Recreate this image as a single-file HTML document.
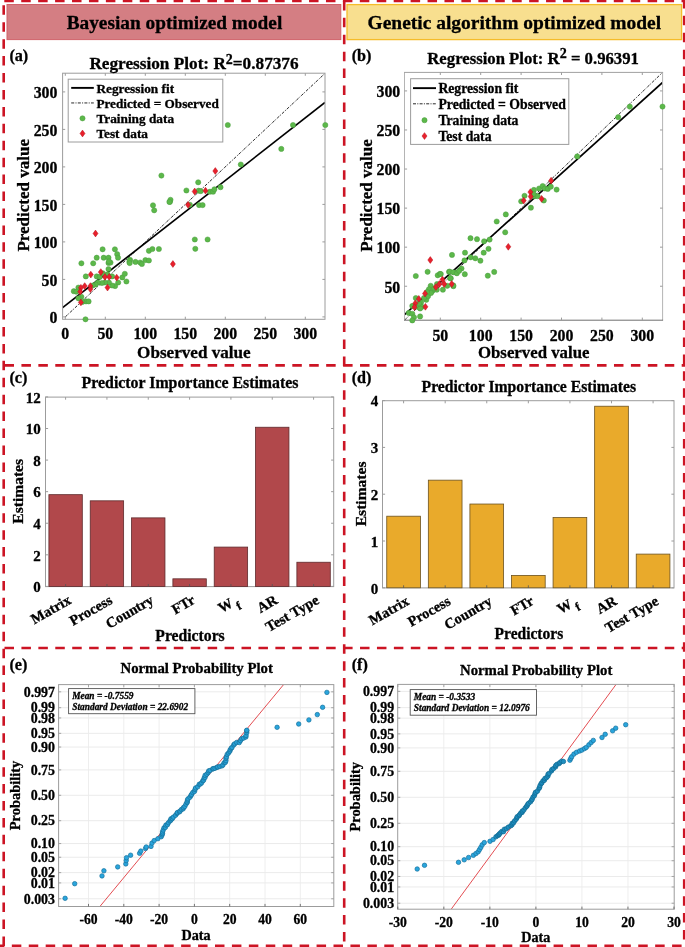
<!DOCTYPE html><html><head><meta charset="utf-8"><title>Model comparison figure</title>
<style>html,body{margin:0;padding:0;background:#fff;}svg{display:block;}text{font-family:"Liberation Serif",serif;font-weight:bold;stroke:#000;stroke-width:0.3px;}</style></head><body>
<svg width="685" height="947" viewBox="0 0 685 947">
<rect width="685" height="947" fill="#fff"/>
<rect x="7" y="4.5" width="333.8" height="35.1" fill="#d47e83" stroke="#d0636a" stroke-width="1" />
<text x="174.5" y="29.2" font-size="19.3" text-anchor="middle" textLength="215.6" lengthAdjust="spacingAndGlyphs" >Bayesian optimized model</text>
<rect x="347" y="4.6" width="334.6" height="35" fill="#f8df8f" stroke="#f5bc2a" stroke-width="1.3" />
<text x="514.3" y="28.6" font-size="19.4" text-anchor="middle" textLength="293.5" lengthAdjust="spacingAndGlyphs" >Genetic algorithm optimized model</text>
<clipPath id="ca"><rect x="62.6" y="73.2" width="262.4" height="246.1"/></clipPath>
<g clip-path="url(#ca)">
<line x1="65.3" y1="316.9" x2="325.3" y2="73.1" stroke="#111" stroke-width="0.9" stroke-dasharray="3 1.3 1 1.3"/>
<line x1="62.6" y1="307.7" x2="325" y2="102.5" stroke="#000" stroke-width="1.7" />
</g>
<rect x="62.6" y="73.2" width="262.4" height="246.1" fill="none" stroke="#9c9c9c" stroke-width="1" />
<line x1="65.3" y1="319.3" x2="65.3" y2="316.7" stroke="#9c9c9c" stroke-width="1" />
<line x1="65.3" y1="73.2" x2="65.3" y2="75.8" stroke="#9c9c9c" stroke-width="1" />
<text x="65.3" y="339.2" font-size="15.8" text-anchor="middle" >0</text>
<line x1="105.3" y1="319.3" x2="105.3" y2="316.7" stroke="#9c9c9c" stroke-width="1" />
<line x1="105.3" y1="73.2" x2="105.3" y2="75.8" stroke="#9c9c9c" stroke-width="1" />
<text x="105.3" y="339.2" font-size="15.8" text-anchor="middle" >50</text>
<line x1="145.3" y1="319.3" x2="145.3" y2="316.7" stroke="#9c9c9c" stroke-width="1" />
<line x1="145.3" y1="73.2" x2="145.3" y2="75.8" stroke="#9c9c9c" stroke-width="1" />
<text x="145.3" y="339.2" font-size="15.8" text-anchor="middle" >100</text>
<line x1="185.3" y1="319.3" x2="185.3" y2="316.7" stroke="#9c9c9c" stroke-width="1" />
<line x1="185.3" y1="73.2" x2="185.3" y2="75.8" stroke="#9c9c9c" stroke-width="1" />
<text x="185.3" y="339.2" font-size="15.8" text-anchor="middle" >150</text>
<line x1="225.3" y1="319.3" x2="225.3" y2="316.7" stroke="#9c9c9c" stroke-width="1" />
<line x1="225.3" y1="73.2" x2="225.3" y2="75.8" stroke="#9c9c9c" stroke-width="1" />
<text x="225.3" y="339.2" font-size="15.8" text-anchor="middle" >200</text>
<line x1="265.3" y1="319.3" x2="265.3" y2="316.7" stroke="#9c9c9c" stroke-width="1" />
<line x1="265.3" y1="73.2" x2="265.3" y2="75.8" stroke="#9c9c9c" stroke-width="1" />
<text x="265.3" y="339.2" font-size="15.8" text-anchor="middle" >250</text>
<line x1="305.3" y1="319.3" x2="305.3" y2="316.7" stroke="#9c9c9c" stroke-width="1" />
<line x1="305.3" y1="73.2" x2="305.3" y2="75.8" stroke="#9c9c9c" stroke-width="1" />
<text x="305.3" y="339.2" font-size="15.8" text-anchor="middle" >300</text>
<line x1="62.6" y1="316.9" x2="65.2" y2="316.9" stroke="#9c9c9c" stroke-width="1" />
<line x1="325" y1="316.9" x2="322.4" y2="316.9" stroke="#9c9c9c" stroke-width="1" />
<text x="57.4" y="323.22" font-size="15.8" text-anchor="end" >0</text>
<line x1="62.6" y1="279.4" x2="65.2" y2="279.4" stroke="#9c9c9c" stroke-width="1" />
<line x1="325" y1="279.4" x2="322.4" y2="279.4" stroke="#9c9c9c" stroke-width="1" />
<text x="57.4" y="285.72" font-size="15.8" text-anchor="end" >50</text>
<line x1="62.6" y1="241.9" x2="65.2" y2="241.9" stroke="#9c9c9c" stroke-width="1" />
<line x1="325" y1="241.9" x2="322.4" y2="241.9" stroke="#9c9c9c" stroke-width="1" />
<text x="57.4" y="248.22" font-size="15.8" text-anchor="end" >100</text>
<line x1="62.6" y1="204.4" x2="65.2" y2="204.4" stroke="#9c9c9c" stroke-width="1" />
<line x1="325" y1="204.4" x2="322.4" y2="204.4" stroke="#9c9c9c" stroke-width="1" />
<text x="57.4" y="210.72" font-size="15.8" text-anchor="end" >150</text>
<line x1="62.6" y1="166.9" x2="65.2" y2="166.9" stroke="#9c9c9c" stroke-width="1" />
<line x1="325" y1="166.9" x2="322.4" y2="166.9" stroke="#9c9c9c" stroke-width="1" />
<text x="57.4" y="173.22" font-size="15.8" text-anchor="end" >200</text>
<line x1="62.6" y1="129.4" x2="65.2" y2="129.4" stroke="#9c9c9c" stroke-width="1" />
<line x1="325" y1="129.4" x2="322.4" y2="129.4" stroke="#9c9c9c" stroke-width="1" />
<text x="57.4" y="135.72" font-size="15.8" text-anchor="end" >250</text>
<line x1="62.6" y1="91.9" x2="65.2" y2="91.9" stroke="#9c9c9c" stroke-width="1" />
<line x1="325" y1="91.9" x2="322.4" y2="91.9" stroke="#9c9c9c" stroke-width="1" />
<text x="57.4" y="98.22" font-size="15.8" text-anchor="end" >300</text>
<circle cx="81.4" cy="263.3" r="2.6" fill="#5cb84a" stroke="#4a9c3e" stroke-width="0.5"/>
<circle cx="93.2" cy="263.3" r="2.6" fill="#5cb84a" stroke="#4a9c3e" stroke-width="0.5"/>
<circle cx="108.5" cy="262.9" r="2.6" fill="#5cb84a" stroke="#4a9c3e" stroke-width="0.5"/>
<circle cx="110.5" cy="262.6" r="2.6" fill="#5cb84a" stroke="#4a9c3e" stroke-width="0.5"/>
<circle cx="129.4" cy="262" r="2.6" fill="#5cb84a" stroke="#4a9c3e" stroke-width="0.5"/>
<circle cx="108.5" cy="269" r="2.6" fill="#5cb84a" stroke="#4a9c3e" stroke-width="0.5"/>
<circle cx="85.8" cy="276.4" r="2.6" fill="#5cb84a" stroke="#4a9c3e" stroke-width="0.5"/>
<circle cx="96.7" cy="276.4" r="2.6" fill="#5cb84a" stroke="#4a9c3e" stroke-width="0.5"/>
<circle cx="99.8" cy="276.9" r="2.6" fill="#5cb84a" stroke="#4a9c3e" stroke-width="0.5"/>
<circle cx="102.9" cy="273.3" r="2.6" fill="#5cb84a" stroke="#4a9c3e" stroke-width="0.5"/>
<circle cx="107.5" cy="274.3" r="2.6" fill="#5cb84a" stroke="#4a9c3e" stroke-width="0.5"/>
<circle cx="112.1" cy="276.4" r="2.6" fill="#5cb84a" stroke="#4a9c3e" stroke-width="0.5"/>
<circle cx="122.3" cy="277.4" r="2.6" fill="#5cb84a" stroke="#4a9c3e" stroke-width="0.5"/>
<circle cx="124.8" cy="273.8" r="2.6" fill="#5cb84a" stroke="#4a9c3e" stroke-width="0.5"/>
<circle cx="126.4" cy="281.5" r="2.6" fill="#5cb84a" stroke="#4a9c3e" stroke-width="0.5"/>
<circle cx="118.2" cy="282.5" r="2.6" fill="#5cb84a" stroke="#4a9c3e" stroke-width="0.5"/>
<circle cx="115.1" cy="286.1" r="2.6" fill="#5cb84a" stroke="#4a9c3e" stroke-width="0.5"/>
<circle cx="112.1" cy="285.5" r="2.6" fill="#5cb84a" stroke="#4a9c3e" stroke-width="0.5"/>
<circle cx="109" cy="282.5" r="2.6" fill="#5cb84a" stroke="#4a9c3e" stroke-width="0.5"/>
<circle cx="104.9" cy="282.5" r="2.6" fill="#5cb84a" stroke="#4a9c3e" stroke-width="0.5"/>
<circle cx="101.9" cy="283" r="2.6" fill="#5cb84a" stroke="#4a9c3e" stroke-width="0.5"/>
<circle cx="97.8" cy="282.5" r="2.6" fill="#5cb84a" stroke="#4a9c3e" stroke-width="0.5"/>
<circle cx="95.7" cy="284.5" r="2.6" fill="#5cb84a" stroke="#4a9c3e" stroke-width="0.5"/>
<circle cx="92.7" cy="285.5" r="2.6" fill="#5cb84a" stroke="#4a9c3e" stroke-width="0.5"/>
<circle cx="78.4" cy="287.6" r="2.6" fill="#5cb84a" stroke="#4a9c3e" stroke-width="0.5"/>
<circle cx="73.8" cy="291.2" r="2.6" fill="#5cb84a" stroke="#4a9c3e" stroke-width="0.5"/>
<circle cx="76.3" cy="291.7" r="2.6" fill="#5cb84a" stroke="#4a9c3e" stroke-width="0.5"/>
<circle cx="81.4" cy="296.8" r="2.6" fill="#5cb84a" stroke="#4a9c3e" stroke-width="0.5"/>
<circle cx="78.4" cy="298.3" r="2.6" fill="#5cb84a" stroke="#4a9c3e" stroke-width="0.5"/>
<circle cx="86" cy="301.4" r="2.6" fill="#5cb84a" stroke="#4a9c3e" stroke-width="0.5"/>
<circle cx="88.6" cy="301.4" r="2.6" fill="#5cb84a" stroke="#4a9c3e" stroke-width="0.5"/>
<circle cx="82.4" cy="301.9" r="2.6" fill="#5cb84a" stroke="#4a9c3e" stroke-width="0.5"/>
<circle cx="85.5" cy="319.3" r="2.6" fill="#5cb84a" stroke="#4a9c3e" stroke-width="0.5"/>
<circle cx="102.6" cy="249.3" r="2.6" fill="#5cb84a" stroke="#4a9c3e" stroke-width="0.5"/>
<circle cx="114.9" cy="249.3" r="2.6" fill="#5cb84a" stroke="#4a9c3e" stroke-width="0.5"/>
<circle cx="117.2" cy="254.2" r="2.6" fill="#5cb84a" stroke="#4a9c3e" stroke-width="0.5"/>
<circle cx="118" cy="257.7" r="2.6" fill="#5cb84a" stroke="#4a9c3e" stroke-width="0.5"/>
<circle cx="96.7" cy="257.7" r="2.6" fill="#5cb84a" stroke="#4a9c3e" stroke-width="0.5"/>
<circle cx="103.7" cy="257.7" r="2.6" fill="#5cb84a" stroke="#4a9c3e" stroke-width="0.5"/>
<circle cx="108.5" cy="257.7" r="2.6" fill="#5cb84a" stroke="#4a9c3e" stroke-width="0.5"/>
<circle cx="109" cy="261.3" r="2.6" fill="#5cb84a" stroke="#4a9c3e" stroke-width="0.5"/>
<circle cx="130" cy="259.8" r="2.6" fill="#5cb84a" stroke="#4a9c3e" stroke-width="0.5"/>
<circle cx="153" cy="205.3" r="2.6" fill="#5cb84a" stroke="#4a9c3e" stroke-width="0.5"/>
<circle cx="154.2" cy="210.3" r="2.6" fill="#5cb84a" stroke="#4a9c3e" stroke-width="0.5"/>
<circle cx="170" cy="201.8" r="2.6" fill="#5cb84a" stroke="#4a9c3e" stroke-width="0.5"/>
<circle cx="194.8" cy="239.5" r="2.6" fill="#5cb84a" stroke="#4a9c3e" stroke-width="0.5"/>
<circle cx="195.3" cy="248.8" r="2.6" fill="#5cb84a" stroke="#4a9c3e" stroke-width="0.5"/>
<circle cx="148.9" cy="250.8" r="2.6" fill="#5cb84a" stroke="#4a9c3e" stroke-width="0.5"/>
<circle cx="152.4" cy="249" r="2.6" fill="#5cb84a" stroke="#4a9c3e" stroke-width="0.5"/>
<circle cx="158.9" cy="249" r="2.6" fill="#5cb84a" stroke="#4a9c3e" stroke-width="0.5"/>
<circle cx="129.7" cy="260.7" r="2.6" fill="#5cb84a" stroke="#4a9c3e" stroke-width="0.5"/>
<circle cx="129.7" cy="263.1" r="2.6" fill="#5cb84a" stroke="#4a9c3e" stroke-width="0.5"/>
<circle cx="135.5" cy="261.9" r="2.6" fill="#5cb84a" stroke="#4a9c3e" stroke-width="0.5"/>
<circle cx="140.2" cy="262.5" r="2.6" fill="#5cb84a" stroke="#4a9c3e" stroke-width="0.5"/>
<circle cx="141.9" cy="264" r="2.6" fill="#5cb84a" stroke="#4a9c3e" stroke-width="0.5"/>
<circle cx="145.4" cy="260.1" r="2.6" fill="#5cb84a" stroke="#4a9c3e" stroke-width="0.5"/>
<circle cx="148.9" cy="260.5" r="2.6" fill="#5cb84a" stroke="#4a9c3e" stroke-width="0.5"/>
<circle cx="161.4" cy="175.6" r="2.6" fill="#5cb84a" stroke="#4a9c3e" stroke-width="0.5"/>
<circle cx="198.2" cy="182.3" r="2.6" fill="#5cb84a" stroke="#4a9c3e" stroke-width="0.5"/>
<circle cx="186.4" cy="190.5" r="2.6" fill="#5cb84a" stroke="#4a9c3e" stroke-width="0.5"/>
<circle cx="198.6" cy="190.7" r="2.6" fill="#5cb84a" stroke="#4a9c3e" stroke-width="0.5"/>
<circle cx="200.8" cy="191.1" r="2.6" fill="#5cb84a" stroke="#4a9c3e" stroke-width="0.5"/>
<circle cx="210" cy="191.7" r="2.6" fill="#5cb84a" stroke="#4a9c3e" stroke-width="0.5"/>
<circle cx="213.1" cy="191.7" r="2.6" fill="#5cb84a" stroke="#4a9c3e" stroke-width="0.5"/>
<circle cx="214.4" cy="189.3" r="2.6" fill="#5cb84a" stroke="#4a9c3e" stroke-width="0.5"/>
<circle cx="220.5" cy="187.2" r="2.6" fill="#5cb84a" stroke="#4a9c3e" stroke-width="0.5"/>
<circle cx="199.1" cy="205.1" r="2.6" fill="#5cb84a" stroke="#4a9c3e" stroke-width="0.5"/>
<circle cx="202.6" cy="205.1" r="2.6" fill="#5cb84a" stroke="#4a9c3e" stroke-width="0.5"/>
<circle cx="189.9" cy="204.8" r="2.6" fill="#5cb84a" stroke="#4a9c3e" stroke-width="0.5"/>
<circle cx="170.5" cy="199.8" r="2.6" fill="#5cb84a" stroke="#4a9c3e" stroke-width="0.5"/>
<circle cx="169.4" cy="201.9" r="2.6" fill="#5cb84a" stroke="#4a9c3e" stroke-width="0.5"/>
<circle cx="240.8" cy="164.5" r="2.6" fill="#5cb84a" stroke="#4a9c3e" stroke-width="0.5"/>
<circle cx="207.6" cy="239.5" r="2.6" fill="#5cb84a" stroke="#4a9c3e" stroke-width="0.5"/>
<circle cx="293" cy="125" r="2.6" fill="#5cb84a" stroke="#4a9c3e" stroke-width="0.5"/>
<circle cx="325.3" cy="125" r="2.6" fill="#5cb84a" stroke="#4a9c3e" stroke-width="0.5"/>
<circle cx="281.3" cy="148.9" r="2.6" fill="#5cb84a" stroke="#4a9c3e" stroke-width="0.5"/>
<circle cx="227.8" cy="125" r="2.6" fill="#5cb84a" stroke="#4a9c3e" stroke-width="0.5"/>
<path d="M90.8 271.2l2.5 3.4l-2.5 3.4l-2.5 -3.4z" fill="#e8202c" stroke="#b8121c" stroke-width="0.5"/>
<path d="M100.8 268.7l2.5 3.4l-2.5 3.4l-2.5 -3.4z" fill="#e8202c" stroke="#b8121c" stroke-width="0.5"/>
<path d="M104.9 273.5l2.5 3.4l-2.5 3.4l-2.5 -3.4z" fill="#e8202c" stroke="#b8121c" stroke-width="0.5"/>
<path d="M109.2 273.5l2.5 3.4l-2.5 3.4l-2.5 -3.4z" fill="#e8202c" stroke="#b8121c" stroke-width="0.5"/>
<path d="M116.7 274.2l2.5 3.4l-2.5 3.4l-2.5 -3.4z" fill="#e8202c" stroke="#b8121c" stroke-width="0.5"/>
<path d="M107.5 284.2l2.5 3.4l-2.5 3.4l-2.5 -3.4z" fill="#e8202c" stroke="#b8121c" stroke-width="0.5"/>
<path d="M84.7 282.7l2.5 3.4l-2.5 3.4l-2.5 -3.4z" fill="#e8202c" stroke="#b8121c" stroke-width="0.5"/>
<path d="M90.4 282.7l2.5 3.4l-2.5 3.4l-2.5 -3.4z" fill="#e8202c" stroke="#b8121c" stroke-width="0.5"/>
<path d="M90.4 285.7l2.5 3.4l-2.5 3.4l-2.5 -3.4z" fill="#e8202c" stroke="#b8121c" stroke-width="0.5"/>
<path d="M80.9 284.4l2.5 3.4l-2.5 3.4l-2.5 -3.4z" fill="#e8202c" stroke="#b8121c" stroke-width="0.5"/>
<path d="M80.2 288.3l2.5 3.4l-2.5 3.4l-2.5 -3.4z" fill="#e8202c" stroke="#b8121c" stroke-width="0.5"/>
<path d="M80.9 299l2.5 3.4l-2.5 3.4l-2.5 -3.4z" fill="#e8202c" stroke="#b8121c" stroke-width="0.5"/>
<path d="M95.5 230.1l2.5 3.4l-2.5 3.4l-2.5 -3.4z" fill="#e8202c" stroke="#b8121c" stroke-width="0.5"/>
<path d="M188.1 201.4l2.5 3.4l-2.5 3.4l-2.5 -3.4z" fill="#e8202c" stroke="#b8121c" stroke-width="0.5"/>
<path d="M172.9 260.6l2.5 3.4l-2.5 3.4l-2.5 -3.4z" fill="#e8202c" stroke="#b8121c" stroke-width="0.5"/>
<path d="M194.7 188.1l2.5 3.4l-2.5 3.4l-2.5 -3.4z" fill="#e8202c" stroke="#b8121c" stroke-width="0.5"/>
<path d="M205.5 187.3l2.5 3.4l-2.5 3.4l-2.5 -3.4z" fill="#e8202c" stroke="#b8121c" stroke-width="0.5"/>
<path d="M215.3 167.6l2.5 3.4l-2.5 3.4l-2.5 -3.4z" fill="#e8202c" stroke="#b8121c" stroke-width="0.5"/>
<rect x="68.2" y="79.2" width="154.6" height="62.8" fill="#fff" stroke="#9c9c9c" stroke-width="1" />
<line x1="71.2" y1="87.88" x2="93.8" y2="87.88" stroke="#000" stroke-width="1.9" />
<line x1="71.2" y1="102.95" x2="93.8" y2="102.95" stroke="#111" stroke-width="0.9" stroke-dasharray="3 1.3 1 1.3"/>
<circle cx="82.5" cy="118.34" r="2.6" fill="#5cb84a" stroke="#4a9c3e" stroke-width="0.5"/>
<path d="M82.5 130.08l2.5 3.4l-2.5 3.4l-2.5 -3.4z" fill="#e8202c" stroke="#b8121c" stroke-width="0.5"/>
<text x="96.4" y="92.6" font-size="13.3" >Regression fit</text>
<text x="96.4" y="107.8" font-size="13.3" textLength="122.4" lengthAdjust="spacingAndGlyphs" >Predicted = Observed</text>
<text x="96.4" y="123" font-size="13.3" >Training data</text>
<text x="96.4" y="138" font-size="13.3" >Test data</text>
<text x="89.4" y="68.8" font-size="17.3" textLength="209.2" lengthAdjust="spacingAndGlyphs">Regression Plot: R<tspan font-size="14" dy="-5">2</tspan><tspan dy="5">=0.87376</tspan></text>
<text x="9.4" y="60.9" font-size="16.2" >(a)</text>
<text x="193.9" y="358.3" font-size="17.1" text-anchor="middle" textLength="113.6" lengthAdjust="spacingAndGlyphs" >Observed value</text>
<text transform="translate(29.3 195.3) rotate(-90)" x="0" y="0" font-size="17" text-anchor="middle" textLength="112.5" lengthAdjust="spacingAndGlyphs">Predicted value</text>
<clipPath id="cb"><rect x="404.5" y="72.4" width="258.1" height="247.8"/></clipPath>
<g clip-path="url(#cb)">
<line x1="404.5" y1="320.2" x2="662.6" y2="72.4" stroke="#111" stroke-width="0.9" stroke-dasharray="3 1.3 1 1.3"/>
<line x1="404.5" y1="314.6" x2="662.6" y2="82.5" stroke="#000" stroke-width="1.7" />
</g>
<line x1="404.5" y1="72.4" x2="404.5" y2="320.2" stroke="#b4b4b4" stroke-width="1" />
<line x1="662.6" y1="72.4" x2="662.6" y2="320.2" stroke="#b4b4b4" stroke-width="1" />
<line x1="404" y1="72.4" x2="663.1" y2="72.4" stroke="#a0a0a0" stroke-width="1" />
<line x1="404" y1="320.2" x2="663.1" y2="320.2" stroke="#6e6e6e" stroke-width="1" />
<line x1="440.3" y1="320.2" x2="440.3" y2="317.6" stroke="#9c9c9c" stroke-width="1" />
<line x1="440.3" y1="72.4" x2="440.3" y2="75" stroke="#9c9c9c" stroke-width="1" />
<text x="440.3" y="340.5" font-size="15.8" text-anchor="middle" >50</text>
<line x1="480.7" y1="320.2" x2="480.7" y2="317.6" stroke="#9c9c9c" stroke-width="1" />
<line x1="480.7" y1="72.4" x2="480.7" y2="75" stroke="#9c9c9c" stroke-width="1" />
<text x="480.7" y="340.5" font-size="15.8" text-anchor="middle" >100</text>
<line x1="521.1" y1="320.2" x2="521.1" y2="317.6" stroke="#9c9c9c" stroke-width="1" />
<line x1="521.1" y1="72.4" x2="521.1" y2="75" stroke="#9c9c9c" stroke-width="1" />
<text x="521.1" y="340.5" font-size="15.8" text-anchor="middle" >150</text>
<line x1="561.5" y1="320.2" x2="561.5" y2="317.6" stroke="#9c9c9c" stroke-width="1" />
<line x1="561.5" y1="72.4" x2="561.5" y2="75" stroke="#9c9c9c" stroke-width="1" />
<text x="561.5" y="340.5" font-size="15.8" text-anchor="middle" >200</text>
<line x1="601.9" y1="320.2" x2="601.9" y2="317.6" stroke="#9c9c9c" stroke-width="1" />
<line x1="601.9" y1="72.4" x2="601.9" y2="75" stroke="#9c9c9c" stroke-width="1" />
<text x="601.9" y="340.5" font-size="15.8" text-anchor="middle" >250</text>
<line x1="642.3" y1="320.2" x2="642.3" y2="317.6" stroke="#9c9c9c" stroke-width="1" />
<line x1="642.3" y1="72.4" x2="642.3" y2="75" stroke="#9c9c9c" stroke-width="1" />
<text x="642.3" y="340.5" font-size="15.8" text-anchor="middle" >300</text>
<line x1="404.5" y1="286.24" x2="407.1" y2="286.24" stroke="#9c9c9c" stroke-width="1" />
<line x1="662.6" y1="286.24" x2="660" y2="286.24" stroke="#9c9c9c" stroke-width="1" />
<text x="400.2" y="292.56" font-size="15.8" text-anchor="end" >50</text>
<line x1="404.5" y1="247.17" x2="407.1" y2="247.17" stroke="#9c9c9c" stroke-width="1" />
<line x1="662.6" y1="247.17" x2="660" y2="247.17" stroke="#9c9c9c" stroke-width="1" />
<text x="400.2" y="253.49" font-size="15.8" text-anchor="end" >100</text>
<line x1="404.5" y1="208.11" x2="407.1" y2="208.11" stroke="#9c9c9c" stroke-width="1" />
<line x1="662.6" y1="208.11" x2="660" y2="208.11" stroke="#9c9c9c" stroke-width="1" />
<text x="400.2" y="214.43" font-size="15.8" text-anchor="end" >150</text>
<line x1="404.5" y1="169.04" x2="407.1" y2="169.04" stroke="#9c9c9c" stroke-width="1" />
<line x1="662.6" y1="169.04" x2="660" y2="169.04" stroke="#9c9c9c" stroke-width="1" />
<text x="400.2" y="175.36" font-size="15.8" text-anchor="end" >200</text>
<line x1="404.5" y1="129.98" x2="407.1" y2="129.98" stroke="#9c9c9c" stroke-width="1" />
<line x1="662.6" y1="129.98" x2="660" y2="129.98" stroke="#9c9c9c" stroke-width="1" />
<text x="400.2" y="136.3" font-size="15.8" text-anchor="end" >250</text>
<line x1="404.5" y1="90.91" x2="407.1" y2="90.91" stroke="#9c9c9c" stroke-width="1" />
<line x1="662.6" y1="90.91" x2="660" y2="90.91" stroke="#9c9c9c" stroke-width="1" />
<text x="400.2" y="97.23" font-size="15.8" text-anchor="end" >300</text>
<circle cx="415.8" cy="276" r="2.6" fill="#5cb84a" stroke="#4a9c3e" stroke-width="0.5"/>
<circle cx="427.6" cy="271.8" r="2.6" fill="#5cb84a" stroke="#4a9c3e" stroke-width="0.5"/>
<circle cx="437.7" cy="275.3" r="2.6" fill="#5cb84a" stroke="#4a9c3e" stroke-width="0.5"/>
<circle cx="439.9" cy="273.9" r="2.6" fill="#5cb84a" stroke="#4a9c3e" stroke-width="0.5"/>
<circle cx="430.7" cy="285.8" r="2.6" fill="#5cb84a" stroke="#4a9c3e" stroke-width="0.5"/>
<circle cx="428.9" cy="289.3" r="2.6" fill="#5cb84a" stroke="#4a9c3e" stroke-width="0.5"/>
<circle cx="432.4" cy="291" r="2.6" fill="#5cb84a" stroke="#4a9c3e" stroke-width="0.5"/>
<circle cx="434.2" cy="288.4" r="2.6" fill="#5cb84a" stroke="#4a9c3e" stroke-width="0.5"/>
<circle cx="436.8" cy="289.7" r="2.6" fill="#5cb84a" stroke="#4a9c3e" stroke-width="0.5"/>
<circle cx="442.9" cy="289.7" r="2.6" fill="#5cb84a" stroke="#4a9c3e" stroke-width="0.5"/>
<circle cx="447.3" cy="285.8" r="2.6" fill="#5cb84a" stroke="#4a9c3e" stroke-width="0.5"/>
<circle cx="450.8" cy="278.3" r="2.6" fill="#5cb84a" stroke="#4a9c3e" stroke-width="0.5"/>
<circle cx="453.4" cy="286.2" r="2.6" fill="#5cb84a" stroke="#4a9c3e" stroke-width="0.5"/>
<circle cx="449" cy="271.8" r="2.6" fill="#5cb84a" stroke="#4a9c3e" stroke-width="0.5"/>
<circle cx="456" cy="272.6" r="2.6" fill="#5cb84a" stroke="#4a9c3e" stroke-width="0.5"/>
<circle cx="415.8" cy="298" r="2.6" fill="#5cb84a" stroke="#4a9c3e" stroke-width="0.5"/>
<circle cx="421" cy="302.4" r="2.6" fill="#5cb84a" stroke="#4a9c3e" stroke-width="0.5"/>
<circle cx="426.3" cy="299.8" r="2.6" fill="#5cb84a" stroke="#4a9c3e" stroke-width="0.5"/>
<circle cx="428" cy="296.3" r="2.6" fill="#5cb84a" stroke="#4a9c3e" stroke-width="0.5"/>
<circle cx="421.9" cy="306.8" r="2.6" fill="#5cb84a" stroke="#4a9c3e" stroke-width="0.5"/>
<circle cx="417.5" cy="306.8" r="2.6" fill="#5cb84a" stroke="#4a9c3e" stroke-width="0.5"/>
<circle cx="420.1" cy="308.5" r="2.6" fill="#5cb84a" stroke="#4a9c3e" stroke-width="0.5"/>
<circle cx="412.3" cy="305.9" r="2.6" fill="#5cb84a" stroke="#4a9c3e" stroke-width="0.5"/>
<circle cx="408.8" cy="312.9" r="2.6" fill="#5cb84a" stroke="#4a9c3e" stroke-width="0.5"/>
<circle cx="412.3" cy="313.8" r="2.6" fill="#5cb84a" stroke="#4a9c3e" stroke-width="0.5"/>
<circle cx="414" cy="317.3" r="2.6" fill="#5cb84a" stroke="#4a9c3e" stroke-width="0.5"/>
<circle cx="412.3" cy="320.4" r="2.6" fill="#5cb84a" stroke="#4a9c3e" stroke-width="0.5"/>
<circle cx="420.1" cy="316.4" r="2.6" fill="#5cb84a" stroke="#4a9c3e" stroke-width="0.5"/>
<circle cx="431" cy="293" r="2.6" fill="#5cb84a" stroke="#4a9c3e" stroke-width="0.5"/>
<circle cx="424" cy="298" r="2.6" fill="#5cb84a" stroke="#4a9c3e" stroke-width="0.5"/>
<circle cx="419" cy="303.5" r="2.6" fill="#5cb84a" stroke="#4a9c3e" stroke-width="0.5"/>
<circle cx="437" cy="284" r="2.6" fill="#5cb84a" stroke="#4a9c3e" stroke-width="0.5"/>
<circle cx="427" cy="292" r="2.6" fill="#5cb84a" stroke="#4a9c3e" stroke-width="0.5"/>
<circle cx="496.7" cy="221.5" r="2.6" fill="#5cb84a" stroke="#4a9c3e" stroke-width="0.5"/>
<circle cx="505.2" cy="232.3" r="2.6" fill="#5cb84a" stroke="#4a9c3e" stroke-width="0.5"/>
<circle cx="470.5" cy="238.2" r="2.6" fill="#5cb84a" stroke="#4a9c3e" stroke-width="0.5"/>
<circle cx="477" cy="239.2" r="2.6" fill="#5cb84a" stroke="#4a9c3e" stroke-width="0.5"/>
<circle cx="484.1" cy="241.3" r="2.6" fill="#5cb84a" stroke="#4a9c3e" stroke-width="0.5"/>
<circle cx="489.6" cy="239.6" r="2.6" fill="#5cb84a" stroke="#4a9c3e" stroke-width="0.5"/>
<circle cx="488.5" cy="248.8" r="2.6" fill="#5cb84a" stroke="#4a9c3e" stroke-width="0.5"/>
<circle cx="483.7" cy="252.7" r="2.6" fill="#5cb84a" stroke="#4a9c3e" stroke-width="0.5"/>
<circle cx="465" cy="252.7" r="2.6" fill="#5cb84a" stroke="#4a9c3e" stroke-width="0.5"/>
<circle cx="452" cy="254.9" r="2.6" fill="#5cb84a" stroke="#4a9c3e" stroke-width="0.5"/>
<circle cx="470.7" cy="257.3" r="2.6" fill="#5cb84a" stroke="#4a9c3e" stroke-width="0.5"/>
<circle cx="475.3" cy="258.3" r="2.6" fill="#5cb84a" stroke="#4a9c3e" stroke-width="0.5"/>
<circle cx="480.4" cy="260.7" r="2.6" fill="#5cb84a" stroke="#4a9c3e" stroke-width="0.5"/>
<circle cx="464.5" cy="260.4" r="2.6" fill="#5cb84a" stroke="#4a9c3e" stroke-width="0.5"/>
<circle cx="461.5" cy="268.5" r="2.6" fill="#5cb84a" stroke="#4a9c3e" stroke-width="0.5"/>
<circle cx="449.7" cy="271.6" r="2.6" fill="#5cb84a" stroke="#4a9c3e" stroke-width="0.5"/>
<circle cx="453.3" cy="272.3" r="2.6" fill="#5cb84a" stroke="#4a9c3e" stroke-width="0.5"/>
<circle cx="456.9" cy="273.3" r="2.6" fill="#5cb84a" stroke="#4a9c3e" stroke-width="0.5"/>
<circle cx="464.8" cy="274.2" r="2.6" fill="#5cb84a" stroke="#4a9c3e" stroke-width="0.5"/>
<circle cx="440.8" cy="274" r="2.6" fill="#5cb84a" stroke="#4a9c3e" stroke-width="0.5"/>
<circle cx="450.2" cy="278.2" r="2.6" fill="#5cb84a" stroke="#4a9c3e" stroke-width="0.5"/>
<circle cx="494.2" cy="271.9" r="2.6" fill="#5cb84a" stroke="#4a9c3e" stroke-width="0.5"/>
<circle cx="487.8" cy="275.7" r="2.6" fill="#5cb84a" stroke="#4a9c3e" stroke-width="0.5"/>
<circle cx="453.3" cy="285.4" r="2.6" fill="#5cb84a" stroke="#4a9c3e" stroke-width="0.5"/>
<circle cx="459.2" cy="270.8" r="2.6" fill="#5cb84a" stroke="#4a9c3e" stroke-width="0.5"/>
<circle cx="505.8" cy="214.4" r="2.6" fill="#5cb84a" stroke="#4a9c3e" stroke-width="0.5"/>
<circle cx="530.9" cy="207.7" r="2.6" fill="#5cb84a" stroke="#4a9c3e" stroke-width="0.5"/>
<circle cx="521.2" cy="201.3" r="2.6" fill="#5cb84a" stroke="#4a9c3e" stroke-width="0.5"/>
<circle cx="524.5" cy="195.8" r="2.6" fill="#5cb84a" stroke="#4a9c3e" stroke-width="0.5"/>
<circle cx="533.9" cy="189.9" r="2.6" fill="#5cb84a" stroke="#4a9c3e" stroke-width="0.5"/>
<circle cx="534.7" cy="196.2" r="2.6" fill="#5cb84a" stroke="#4a9c3e" stroke-width="0.5"/>
<circle cx="537.6" cy="196.2" r="2.6" fill="#5cb84a" stroke="#4a9c3e" stroke-width="0.5"/>
<circle cx="539.1" cy="188.5" r="2.6" fill="#5cb84a" stroke="#4a9c3e" stroke-width="0.5"/>
<circle cx="542.7" cy="186" r="2.6" fill="#5cb84a" stroke="#4a9c3e" stroke-width="0.5"/>
<circle cx="544.9" cy="188.5" r="2.6" fill="#5cb84a" stroke="#4a9c3e" stroke-width="0.5"/>
<circle cx="547.8" cy="188.9" r="2.6" fill="#5cb84a" stroke="#4a9c3e" stroke-width="0.5"/>
<circle cx="550.8" cy="186.7" r="2.6" fill="#5cb84a" stroke="#4a9c3e" stroke-width="0.5"/>
<circle cx="556.6" cy="189.6" r="2.6" fill="#5cb84a" stroke="#4a9c3e" stroke-width="0.5"/>
<circle cx="543.8" cy="200.5" r="2.6" fill="#5cb84a" stroke="#4a9c3e" stroke-width="0.5"/>
<circle cx="533.6" cy="194" r="2.6" fill="#5cb84a" stroke="#4a9c3e" stroke-width="0.5"/>
<circle cx="577.2" cy="156.4" r="2.6" fill="#5cb84a" stroke="#4a9c3e" stroke-width="0.5"/>
<circle cx="618.2" cy="117.2" r="2.6" fill="#5cb84a" stroke="#4a9c3e" stroke-width="0.5"/>
<circle cx="629.8" cy="106.6" r="2.6" fill="#5cb84a" stroke="#4a9c3e" stroke-width="0.5"/>
<circle cx="662.5" cy="106.6" r="2.6" fill="#5cb84a" stroke="#4a9c3e" stroke-width="0.5"/>
<path d="M442.5 276.2l2.5 3.4l-2.5 3.4l-2.5 -3.4z" fill="#e8202c" stroke="#b8121c" stroke-width="0.5"/>
<path d="M439.4 280.6l2.5 3.4l-2.5 3.4l-2.5 -3.4z" fill="#e8202c" stroke="#b8121c" stroke-width="0.5"/>
<path d="M444.2 280.6l2.5 3.4l-2.5 3.4l-2.5 -3.4z" fill="#e8202c" stroke="#b8121c" stroke-width="0.5"/>
<path d="M435.9 283.7l2.5 3.4l-2.5 3.4l-2.5 -3.4z" fill="#e8202c" stroke="#b8121c" stroke-width="0.5"/>
<path d="M451.7 280.6l2.5 3.4l-2.5 3.4l-2.5 -3.4z" fill="#e8202c" stroke="#b8121c" stroke-width="0.5"/>
<path d="M425 290.2l2.5 3.4l-2.5 3.4l-2.5 -3.4z" fill="#e8202c" stroke="#b8121c" stroke-width="0.5"/>
<path d="M418.8 295.5l2.5 3.4l-2.5 3.4l-2.5 -3.4z" fill="#e8202c" stroke="#b8121c" stroke-width="0.5"/>
<path d="M415.3 299.9l2.5 3.4l-2.5 3.4l-2.5 -3.4z" fill="#e8202c" stroke="#b8121c" stroke-width="0.5"/>
<path d="M414.5 303.8l2.5 3.4l-2.5 3.4l-2.5 -3.4z" fill="#e8202c" stroke="#b8121c" stroke-width="0.5"/>
<path d="M425.4 303.4l2.5 3.4l-2.5 3.4l-2.5 -3.4z" fill="#e8202c" stroke="#b8121c" stroke-width="0.5"/>
<path d="M508.3 243.4l2.5 3.4l-2.5 3.4l-2.5 -3.4z" fill="#e8202c" stroke="#b8121c" stroke-width="0.5"/>
<path d="M430.3 256.6l2.5 3.4l-2.5 3.4l-2.5 -3.4z" fill="#e8202c" stroke="#b8121c" stroke-width="0.5"/>
<path d="M551.1 177.3l2.5 3.4l-2.5 3.4l-2.5 -3.4z" fill="#e8202c" stroke="#b8121c" stroke-width="0.5"/>
<path d="M530.4 188.7l2.5 3.4l-2.5 3.4l-2.5 -3.4z" fill="#e8202c" stroke="#b8121c" stroke-width="0.5"/>
<path d="M530.7 193.1l2.5 3.4l-2.5 3.4l-2.5 -3.4z" fill="#e8202c" stroke="#b8121c" stroke-width="0.5"/>
<path d="M523.7 197.2l2.5 3.4l-2.5 3.4l-2.5 -3.4z" fill="#e8202c" stroke="#b8121c" stroke-width="0.5"/>
<path d="M541.6 195.4l2.5 3.4l-2.5 3.4l-2.5 -3.4z" fill="#e8202c" stroke="#b8121c" stroke-width="0.5"/>
<rect x="410.6" y="78.7" width="158.2" height="65.7" fill="#fff" stroke="#9c9c9c" stroke-width="1" />
<line x1="413" y1="88.14" x2="436" y2="88.14" stroke="#000" stroke-width="1.9" />
<line x1="413" y1="103.8" x2="436" y2="103.8" stroke="#111" stroke-width="0.9" stroke-dasharray="3 1.3 1 1.3"/>
<circle cx="424.5" cy="120.2" r="2.6" fill="#5cb84a" stroke="#4a9c3e" stroke-width="0.5"/>
<path d="M424.5 132.64l2.5 3.4l-2.5 3.4l-2.5 -3.4z" fill="#e8202c" stroke="#b8121c" stroke-width="0.5"/>
<text x="438.4" y="93" font-size="13.7" >Regression fit</text>
<text x="438.4" y="108.8" font-size="13.7" textLength="127.4" lengthAdjust="spacingAndGlyphs" >Predicted = Observed</text>
<text x="438.4" y="125" font-size="13.7" >Training data</text>
<text x="438.4" y="140.7" font-size="13.7" >Test data</text>
<text x="427.3" y="63.6" font-size="17.3" textLength="211.6" lengthAdjust="spacingAndGlyphs">Regression Plot: R<tspan font-size="14.6" dy="-5.8">2</tspan><tspan dy="5.8"> = 0.96391</tspan></text>
<text x="351.7" y="61.3" font-size="16.2" >(b)</text>
<text x="533.7" y="357.9" font-size="17.1" text-anchor="middle" textLength="111.5" lengthAdjust="spacingAndGlyphs" >Observed value</text>
<text transform="translate(371.8 195.5) rotate(-90)" x="0" y="0" font-size="17" text-anchor="middle" textLength="112.5" lengthAdjust="spacingAndGlyphs">Predicted value</text>
<rect x="45.5" y="397.1" width="288.2" height="189.5" fill="none" stroke="#9c9c9c" stroke-width="1" />
<rect x="48.9" y="494.66" width="33.4" height="91.74" fill="#b1484b" stroke="#5e2a2c" stroke-width="0.8" />
<rect x="90.23" y="500.82" width="33.4" height="85.58" fill="#b1484b" stroke="#5e2a2c" stroke-width="0.8" />
<rect x="131.56" y="517.87" width="33.4" height="68.53" fill="#b1484b" stroke="#5e2a2c" stroke-width="0.8" />
<rect x="172.89" y="578.82" width="33.4" height="7.58" fill="#b1484b" stroke="#5e2a2c" stroke-width="0.8" />
<rect x="214.22" y="547.08" width="33.4" height="39.32" fill="#b1484b" stroke="#5e2a2c" stroke-width="0.8" />
<rect x="255.55" y="427.24" width="33.4" height="159.16" fill="#b1484b" stroke="#5e2a2c" stroke-width="0.8" />
<rect x="296.88" y="562.24" width="33.4" height="24.16" fill="#b1484b" stroke="#5e2a2c" stroke-width="0.8" />
<line x1="65.6" y1="586.6" x2="65.6" y2="584" stroke="#555" stroke-width="0.8" />
<line x1="65.6" y1="397.1" x2="65.6" y2="399.7" stroke="#9c9c9c" stroke-width="1" />
<line x1="106.93" y1="586.6" x2="106.93" y2="584" stroke="#555" stroke-width="0.8" />
<line x1="106.93" y1="397.1" x2="106.93" y2="399.7" stroke="#9c9c9c" stroke-width="1" />
<line x1="148.26" y1="586.6" x2="148.26" y2="584" stroke="#555" stroke-width="0.8" />
<line x1="148.26" y1="397.1" x2="148.26" y2="399.7" stroke="#9c9c9c" stroke-width="1" />
<line x1="189.59" y1="586.6" x2="189.59" y2="584" stroke="#555" stroke-width="0.8" />
<line x1="189.59" y1="397.1" x2="189.59" y2="399.7" stroke="#9c9c9c" stroke-width="1" />
<line x1="230.92" y1="586.6" x2="230.92" y2="584" stroke="#555" stroke-width="0.8" />
<line x1="230.92" y1="397.1" x2="230.92" y2="399.7" stroke="#9c9c9c" stroke-width="1" />
<line x1="272.25" y1="586.6" x2="272.25" y2="584" stroke="#555" stroke-width="0.8" />
<line x1="272.25" y1="397.1" x2="272.25" y2="399.7" stroke="#9c9c9c" stroke-width="1" />
<line x1="313.58" y1="586.6" x2="313.58" y2="584" stroke="#555" stroke-width="0.8" />
<line x1="313.58" y1="397.1" x2="313.58" y2="399.7" stroke="#9c9c9c" stroke-width="1" />
<line x1="45.5" y1="586.4" x2="48.1" y2="586.4" stroke="#9c9c9c" stroke-width="1" />
<line x1="333.7" y1="586.4" x2="331.1" y2="586.4" stroke="#9c9c9c" stroke-width="1" />
<text x="40.8" y="592.1" font-size="15" text-anchor="end" >0</text>
<line x1="45.5" y1="554.82" x2="48.1" y2="554.82" stroke="#9c9c9c" stroke-width="1" />
<line x1="333.7" y1="554.82" x2="331.1" y2="554.82" stroke="#9c9c9c" stroke-width="1" />
<text x="40.8" y="560.52" font-size="15" text-anchor="end" >2</text>
<line x1="45.5" y1="523.24" x2="48.1" y2="523.24" stroke="#9c9c9c" stroke-width="1" />
<line x1="333.7" y1="523.24" x2="331.1" y2="523.24" stroke="#9c9c9c" stroke-width="1" />
<text x="40.8" y="528.94" font-size="15" text-anchor="end" >4</text>
<line x1="45.5" y1="491.66" x2="48.1" y2="491.66" stroke="#9c9c9c" stroke-width="1" />
<line x1="333.7" y1="491.66" x2="331.1" y2="491.66" stroke="#9c9c9c" stroke-width="1" />
<text x="40.8" y="497.36" font-size="15" text-anchor="end" >6</text>
<line x1="45.5" y1="460.08" x2="48.1" y2="460.08" stroke="#9c9c9c" stroke-width="1" />
<line x1="333.7" y1="460.08" x2="331.1" y2="460.08" stroke="#9c9c9c" stroke-width="1" />
<text x="40.8" y="465.78" font-size="15" text-anchor="end" >8</text>
<line x1="45.5" y1="428.5" x2="48.1" y2="428.5" stroke="#9c9c9c" stroke-width="1" />
<line x1="333.7" y1="428.5" x2="331.1" y2="428.5" stroke="#9c9c9c" stroke-width="1" />
<text x="40.8" y="434.2" font-size="15" text-anchor="end" >10</text>
<line x1="45.5" y1="396.92" x2="48.1" y2="396.92" stroke="#9c9c9c" stroke-width="1" />
<line x1="333.7" y1="396.92" x2="331.1" y2="396.92" stroke="#9c9c9c" stroke-width="1" />
<text x="40.8" y="402.62" font-size="15" text-anchor="end" >12</text>
<text transform="translate(72 602.8) rotate(-30)" x="0" y="0" font-size="14.5" text-anchor="end">Matrix</text>
<text transform="translate(113.33 602.8) rotate(-30)" x="0" y="0" font-size="14.5" text-anchor="end">Process</text>
<text transform="translate(154.66 602.8) rotate(-30)" x="0" y="0" font-size="14.5" text-anchor="end">Country</text>
<text transform="translate(195.99 602.8) rotate(-30)" x="0" y="0" font-size="14.5" text-anchor="end">FTr</text>
<text transform="translate(239.32 602.8) rotate(-30)" x="0" y="0" font-size="14.5" text-anchor="end">W<tspan font-size="12" dx="2.2" dy="6.3">f</tspan></text>
<text transform="translate(278.65 602.8) rotate(-30)" x="0" y="0" font-size="14.5" text-anchor="end">AR</text>
<text transform="translate(319.98 602.8) rotate(-30)" x="0" y="0" font-size="14.5" text-anchor="end">Test Type</text>
<text x="81.6" y="388.3" font-size="15.8" textLength="216.9" lengthAdjust="spacingAndGlyphs" >Predictor Importance Estimates</text>
<text x="9.4" y="383.4" font-size="16.2" >(c)</text>
<text x="190" y="641" font-size="15.7" text-anchor="middle" textLength="69.4" lengthAdjust="spacingAndGlyphs" >Predictors</text>
<text transform="translate(22.6 491.3) rotate(-90)" x="0" y="0" font-size="15.5" text-anchor="middle" textLength="64.7" lengthAdjust="spacingAndGlyphs">Estimates</text>
<rect x="382.5" y="400.7" width="291.5" height="187.2" fill="none" stroke="#9c9c9c" stroke-width="1" />
<rect x="386.75" y="516.2" width="33.7" height="71.6" fill="#e9aa2b" stroke="#6b5220" stroke-width="0.8" />
<rect x="428.33" y="480.16" width="33.7" height="107.64" fill="#e9aa2b" stroke="#6b5220" stroke-width="0.8" />
<rect x="469.91" y="504.03" width="33.7" height="83.77" fill="#e9aa2b" stroke="#6b5220" stroke-width="0.8" />
<rect x="511.49" y="575.4" width="33.7" height="12.4" fill="#e9aa2b" stroke="#6b5220" stroke-width="0.8" />
<rect x="553.07" y="517.6" width="33.7" height="70.2" fill="#e9aa2b" stroke="#6b5220" stroke-width="0.8" />
<rect x="594.65" y="406.22" width="33.7" height="181.58" fill="#e9aa2b" stroke="#6b5220" stroke-width="0.8" />
<rect x="636.23" y="554.1" width="33.7" height="33.7" fill="#e9aa2b" stroke="#6b5220" stroke-width="0.8" />
<line x1="403.6" y1="587.9" x2="403.6" y2="585.3" stroke="#555" stroke-width="0.8" />
<line x1="403.6" y1="400.7" x2="403.6" y2="403.3" stroke="#9c9c9c" stroke-width="1" />
<line x1="445.18" y1="587.9" x2="445.18" y2="585.3" stroke="#555" stroke-width="0.8" />
<line x1="445.18" y1="400.7" x2="445.18" y2="403.3" stroke="#9c9c9c" stroke-width="1" />
<line x1="486.76" y1="587.9" x2="486.76" y2="585.3" stroke="#555" stroke-width="0.8" />
<line x1="486.76" y1="400.7" x2="486.76" y2="403.3" stroke="#9c9c9c" stroke-width="1" />
<line x1="528.34" y1="587.9" x2="528.34" y2="585.3" stroke="#555" stroke-width="0.8" />
<line x1="528.34" y1="400.7" x2="528.34" y2="403.3" stroke="#9c9c9c" stroke-width="1" />
<line x1="569.92" y1="587.9" x2="569.92" y2="585.3" stroke="#555" stroke-width="0.8" />
<line x1="569.92" y1="400.7" x2="569.92" y2="403.3" stroke="#9c9c9c" stroke-width="1" />
<line x1="611.5" y1="587.9" x2="611.5" y2="585.3" stroke="#555" stroke-width="0.8" />
<line x1="611.5" y1="400.7" x2="611.5" y2="403.3" stroke="#9c9c9c" stroke-width="1" />
<line x1="653.08" y1="587.9" x2="653.08" y2="585.3" stroke="#555" stroke-width="0.8" />
<line x1="653.08" y1="400.7" x2="653.08" y2="403.3" stroke="#9c9c9c" stroke-width="1" />
<line x1="382.5" y1="587.8" x2="385.1" y2="587.8" stroke="#9c9c9c" stroke-width="1" />
<line x1="674" y1="587.8" x2="671.4" y2="587.8" stroke="#9c9c9c" stroke-width="1" />
<text x="378.3" y="593.5" font-size="15" text-anchor="end" >0</text>
<line x1="382.5" y1="541" x2="385.1" y2="541" stroke="#9c9c9c" stroke-width="1" />
<line x1="674" y1="541" x2="671.4" y2="541" stroke="#9c9c9c" stroke-width="1" />
<text x="378.3" y="546.7" font-size="15" text-anchor="end" >1</text>
<line x1="382.5" y1="494.2" x2="385.1" y2="494.2" stroke="#9c9c9c" stroke-width="1" />
<line x1="674" y1="494.2" x2="671.4" y2="494.2" stroke="#9c9c9c" stroke-width="1" />
<text x="378.3" y="499.9" font-size="15" text-anchor="end" >2</text>
<line x1="382.5" y1="447.4" x2="385.1" y2="447.4" stroke="#9c9c9c" stroke-width="1" />
<line x1="674" y1="447.4" x2="671.4" y2="447.4" stroke="#9c9c9c" stroke-width="1" />
<text x="378.3" y="453.1" font-size="15" text-anchor="end" >3</text>
<line x1="382.5" y1="400.6" x2="385.1" y2="400.6" stroke="#9c9c9c" stroke-width="1" />
<line x1="674" y1="400.6" x2="671.4" y2="400.6" stroke="#9c9c9c" stroke-width="1" />
<text x="378.3" y="406.3" font-size="15" text-anchor="end" >4</text>
<text transform="translate(410 603.8) rotate(-30)" x="0" y="0" font-size="14.5" text-anchor="end">Matrix</text>
<text transform="translate(451.58 603.8) rotate(-30)" x="0" y="0" font-size="14.5" text-anchor="end">Process</text>
<text transform="translate(493.16 603.8) rotate(-30)" x="0" y="0" font-size="14.5" text-anchor="end">Country</text>
<text transform="translate(534.74 603.8) rotate(-30)" x="0" y="0" font-size="14.5" text-anchor="end">FTr</text>
<text transform="translate(578.32 603.8) rotate(-30)" x="0" y="0" font-size="14.5" text-anchor="end">W<tspan font-size="12" dx="2.2" dy="6.3">f</tspan></text>
<text transform="translate(617.9 603.8) rotate(-30)" x="0" y="0" font-size="14.5" text-anchor="end">AR</text>
<text transform="translate(659.48 603.8) rotate(-30)" x="0" y="0" font-size="14.5" text-anchor="end">Test Type</text>
<text x="421.6" y="391.5" font-size="15.8" textLength="214.4" lengthAdjust="spacingAndGlyphs" >Predictor Importance Estimates</text>
<text x="351.7" y="382.9" font-size="16.2" >(d)</text>
<text x="528.9" y="639.4" font-size="15.7" text-anchor="middle" textLength="68.6" lengthAdjust="spacingAndGlyphs" >Predictors</text>
<text transform="translate(365.8 493.9) rotate(-90)" x="0" y="0" font-size="15.5" text-anchor="middle" textLength="64.7" lengthAdjust="spacingAndGlyphs">Estimates</text>
<rect x="58.6" y="684.6" width="275.2" height="221.9" fill="#fff" stroke="none" stroke-width="1" />
<line x1="88.5" y1="684.6" x2="88.5" y2="906.5" stroke="#eeeeee" stroke-width="1" />
<line x1="123.8" y1="684.6" x2="123.8" y2="906.5" stroke="#eeeeee" stroke-width="1" />
<line x1="159.1" y1="684.6" x2="159.1" y2="906.5" stroke="#eeeeee" stroke-width="1" />
<line x1="194.4" y1="684.6" x2="194.4" y2="906.5" stroke="#eeeeee" stroke-width="1" />
<line x1="229.7" y1="684.6" x2="229.7" y2="906.5" stroke="#eeeeee" stroke-width="1" />
<line x1="265" y1="684.6" x2="265" y2="906.5" stroke="#eeeeee" stroke-width="1" />
<line x1="300.3" y1="684.6" x2="300.3" y2="906.5" stroke="#eeeeee" stroke-width="1" />
<line x1="58.6" y1="898.78" x2="333.8" y2="898.78" stroke="#ebebeb" stroke-width="1" />
<line x1="58.6" y1="882.91" x2="333.8" y2="882.91" stroke="#ebebeb" stroke-width="1" />
<line x1="58.6" y1="872.64" x2="333.8" y2="872.64" stroke="#ebebeb" stroke-width="1" />
<line x1="58.6" y1="857.25" x2="333.8" y2="857.25" stroke="#ebebeb" stroke-width="1" />
<line x1="58.6" y1="843.56" x2="333.8" y2="843.56" stroke="#ebebeb" stroke-width="1" />
<line x1="58.6" y1="820.7" x2="333.8" y2="820.7" stroke="#ebebeb" stroke-width="1" />
<line x1="58.6" y1="795.3" x2="333.8" y2="795.3" stroke="#ebebeb" stroke-width="1" />
<line x1="58.6" y1="769.9" x2="333.8" y2="769.9" stroke="#ebebeb" stroke-width="1" />
<line x1="58.6" y1="747.04" x2="333.8" y2="747.04" stroke="#ebebeb" stroke-width="1" />
<line x1="58.6" y1="733.35" x2="333.8" y2="733.35" stroke="#ebebeb" stroke-width="1" />
<line x1="58.6" y1="717.96" x2="333.8" y2="717.96" stroke="#ebebeb" stroke-width="1" />
<line x1="58.6" y1="707.69" x2="333.8" y2="707.69" stroke="#ebebeb" stroke-width="1" />
<line x1="58.6" y1="691.82" x2="333.8" y2="691.82" stroke="#ebebeb" stroke-width="1" />
<clipPath id="ce"><rect x="58.6" y="684.6" width="275.2" height="221.9"/></clipPath>
<g clip-path="url(#ce)">
<line x1="99.9" y1="906.5" x2="283.6" y2="684.6" stroke="#e0393e" stroke-width="0.9" />
</g>
<g fill="#2aa5dc" stroke="#17739f" stroke-width="0.7">
<circle cx="65.1" cy="898.3" r="2.25"/>
<circle cx="74.7" cy="883.7" r="2.25"/>
<circle cx="102" cy="875.9" r="2.25"/>
<circle cx="103.9" cy="870.8" r="2.25"/>
<circle cx="117.7" cy="866.9" r="2.25"/>
<circle cx="125.8" cy="863.9" r="2.25"/>
<circle cx="126.2" cy="860.6" r="2.25"/>
<circle cx="126.5" cy="857.7" r="2.25"/>
<circle cx="130.6" cy="855.2" r="2.25"/>
<circle cx="139.6" cy="853.3" r="2.25"/>
<circle cx="140.8" cy="851.1" r="2.25"/>
<circle cx="145.5" cy="848.5" r="2.25"/>
<circle cx="146.2" cy="847" r="2.25"/>
<circle cx="151" cy="846.4" r="2.25"/>
<circle cx="152" cy="843.1" r="2.25"/>
<circle cx="154.2" cy="840.6" r="2.25"/>
<circle cx="157.9" cy="838.7" r="2.25"/>
<circle cx="277.1" cy="727.3" r="2.25"/>
<circle cx="298.7" cy="724" r="2.25"/>
<circle cx="308.9" cy="719.9" r="2.25"/>
<circle cx="317.3" cy="714.6" r="2.25"/>
<circle cx="322.6" cy="707.3" r="2.25"/>
<circle cx="326.9" cy="692.4" r="2.25"/>
</g>
<g fill="#27a0d6" stroke="#157099" stroke-width="0.7">
<circle cx="161.25" cy="836.71" r="2.25"/>
<circle cx="162.16" cy="834.85" r="2.25"/>
<circle cx="162.45" cy="833.51" r="2.25"/>
<circle cx="162.51" cy="831.94" r="2.25"/>
<circle cx="163.22" cy="830.07" r="2.25"/>
<circle cx="164" cy="827.83" r="2.25"/>
<circle cx="165.39" cy="827.39" r="2.25"/>
<circle cx="165.87" cy="825.08" r="2.25"/>
<circle cx="167.48" cy="824.63" r="2.25"/>
<circle cx="168.41" cy="822.69" r="2.25"/>
<circle cx="169.97" cy="821.03" r="2.25"/>
<circle cx="170.8" cy="820.21" r="2.25"/>
<circle cx="170.97" cy="818.8" r="2.25"/>
<circle cx="172.37" cy="818.61" r="2.25"/>
<circle cx="173.35" cy="817.11" r="2.25"/>
<circle cx="175.54" cy="815.32" r="2.25"/>
<circle cx="176.97" cy="813.39" r="2.25"/>
<circle cx="177.45" cy="812.56" r="2.25"/>
<circle cx="179.49" cy="811.83" r="2.25"/>
<circle cx="180.14" cy="811.02" r="2.25"/>
<circle cx="181.5" cy="809.45" r="2.25"/>
<circle cx="183.15" cy="808.85" r="2.25"/>
<circle cx="183.54" cy="807.5" r="2.25"/>
<circle cx="184.8" cy="806.46" r="2.25"/>
<circle cx="185.95" cy="804.17" r="2.25"/>
<circle cx="187.17" cy="802.47" r="2.25"/>
<circle cx="187.12" cy="801.89" r="2.25"/>
<circle cx="187.48" cy="800.05" r="2.25"/>
<circle cx="188.05" cy="798.84" r="2.25"/>
<circle cx="189.94" cy="797.27" r="2.25"/>
<circle cx="190.96" cy="795.47" r="2.25"/>
<circle cx="191.57" cy="794.43" r="2.25"/>
<circle cx="192.76" cy="792.49" r="2.25"/>
<circle cx="194.48" cy="791.42" r="2.25"/>
<circle cx="195.06" cy="789.48" r="2.25"/>
<circle cx="195.58" cy="787.98" r="2.25"/>
<circle cx="197.71" cy="786.84" r="2.25"/>
<circle cx="199.25" cy="784.3" r="2.25"/>
<circle cx="200.39" cy="783.99" r="2.25"/>
<circle cx="201.63" cy="782.85" r="2.25"/>
<circle cx="202.79" cy="780.81" r="2.25"/>
<circle cx="203.58" cy="780.18" r="2.25"/>
<circle cx="204.18" cy="777.98" r="2.25"/>
<circle cx="205.05" cy="777.39" r="2.25"/>
<circle cx="205.11" cy="775.33" r="2.25"/>
<circle cx="206.77" cy="774.29" r="2.25"/>
<circle cx="208.15" cy="772.61" r="2.25"/>
<circle cx="208.69" cy="770.88" r="2.25"/>
<circle cx="210.1" cy="770.44" r="2.25"/>
<circle cx="212.69" cy="768.96" r="2.25"/>
<circle cx="213.35" cy="768.62" r="2.25"/>
<circle cx="214.98" cy="768.33" r="2.25"/>
<circle cx="217.02" cy="767.37" r="2.25"/>
<circle cx="217.76" cy="766.94" r="2.25"/>
<circle cx="219.82" cy="766.49" r="2.25"/>
<circle cx="222.13" cy="765.82" r="2.25"/>
<circle cx="223.02" cy="764.86" r="2.25"/>
<circle cx="224.15" cy="762.73" r="2.25"/>
<circle cx="225.36" cy="762.39" r="2.25"/>
<circle cx="225.97" cy="760.67" r="2.25"/>
<circle cx="225.95" cy="758.36" r="2.25"/>
<circle cx="226.39" cy="756.94" r="2.25"/>
<circle cx="227.19" cy="754.39" r="2.25"/>
<circle cx="228.49" cy="753.03" r="2.25"/>
<circle cx="229.78" cy="751.37" r="2.25"/>
<circle cx="230.2" cy="749.76" r="2.25"/>
<circle cx="231.24" cy="748.31" r="2.25"/>
<circle cx="231.99" cy="747.47" r="2.25"/>
<circle cx="233.66" cy="744.91" r="2.25"/>
<circle cx="234.55" cy="743.89" r="2.25"/>
<circle cx="236.66" cy="742.47" r="2.25"/>
<circle cx="239.29" cy="742.59" r="2.25"/>
<circle cx="240.5" cy="740.58" r="2.25"/>
<circle cx="241.72" cy="738.74" r="2.25"/>
<circle cx="243.63" cy="738.07" r="2.25"/>
<circle cx="245.86" cy="737.03" r="2.25"/>
<circle cx="246.03" cy="735.53" r="2.25"/>
<circle cx="246.74" cy="732.66" r="2.25"/>
<circle cx="246.76" cy="730.74" r="2.25"/>
<circle cx="246.74" cy="730.27" r="2.25"/>
</g>
<rect x="58.6" y="684.6" width="275.2" height="221.9" fill="none" stroke="#9c9c9c" stroke-width="1" />
<line x1="88.5" y1="906.5" x2="88.5" y2="903.9" stroke="#666" stroke-width="0.9" />
<line x1="88.5" y1="684.6" x2="88.5" y2="687.2" stroke="#9c9c9c" stroke-width="0.9" />
<text x="88.5" y="924.2" font-size="13.6" text-anchor="middle" >-60</text>
<line x1="123.8" y1="906.5" x2="123.8" y2="903.9" stroke="#666" stroke-width="0.9" />
<line x1="123.8" y1="684.6" x2="123.8" y2="687.2" stroke="#9c9c9c" stroke-width="0.9" />
<text x="123.8" y="924.2" font-size="13.6" text-anchor="middle" >-40</text>
<line x1="159.1" y1="906.5" x2="159.1" y2="903.9" stroke="#666" stroke-width="0.9" />
<line x1="159.1" y1="684.6" x2="159.1" y2="687.2" stroke="#9c9c9c" stroke-width="0.9" />
<text x="159.1" y="924.2" font-size="13.6" text-anchor="middle" >-20</text>
<line x1="194.4" y1="906.5" x2="194.4" y2="903.9" stroke="#666" stroke-width="0.9" />
<line x1="194.4" y1="684.6" x2="194.4" y2="687.2" stroke="#9c9c9c" stroke-width="0.9" />
<text x="194.4" y="924.2" font-size="13.6" text-anchor="middle" >0</text>
<line x1="229.7" y1="906.5" x2="229.7" y2="903.9" stroke="#666" stroke-width="0.9" />
<line x1="229.7" y1="684.6" x2="229.7" y2="687.2" stroke="#9c9c9c" stroke-width="0.9" />
<text x="229.7" y="924.2" font-size="13.6" text-anchor="middle" >20</text>
<line x1="265" y1="906.5" x2="265" y2="903.9" stroke="#666" stroke-width="0.9" />
<line x1="265" y1="684.6" x2="265" y2="687.2" stroke="#9c9c9c" stroke-width="0.9" />
<text x="265" y="924.2" font-size="13.6" text-anchor="middle" >40</text>
<line x1="300.3" y1="906.5" x2="300.3" y2="903.9" stroke="#666" stroke-width="0.9" />
<line x1="300.3" y1="684.6" x2="300.3" y2="687.2" stroke="#9c9c9c" stroke-width="0.9" />
<text x="300.3" y="924.2" font-size="13.6" text-anchor="middle" >60</text>
<line x1="58.6" y1="898.78" x2="61.2" y2="898.78" stroke="#9c9c9c" stroke-width="0.9" />
<line x1="333.8" y1="898.78" x2="331.2" y2="898.78" stroke="#9c9c9c" stroke-width="0.9" />
<text x="55" y="903.51" font-size="13.9" text-anchor="end" >0.003</text>
<line x1="58.6" y1="882.91" x2="61.2" y2="882.91" stroke="#9c9c9c" stroke-width="0.9" />
<line x1="333.8" y1="882.91" x2="331.2" y2="882.91" stroke="#9c9c9c" stroke-width="0.9" />
<text x="55" y="887.64" font-size="13.9" text-anchor="end" >0.01</text>
<line x1="58.6" y1="872.64" x2="61.2" y2="872.64" stroke="#9c9c9c" stroke-width="0.9" />
<line x1="333.8" y1="872.64" x2="331.2" y2="872.64" stroke="#9c9c9c" stroke-width="0.9" />
<text x="55" y="877.37" font-size="13.9" text-anchor="end" >0.02</text>
<line x1="58.6" y1="857.25" x2="61.2" y2="857.25" stroke="#9c9c9c" stroke-width="0.9" />
<line x1="333.8" y1="857.25" x2="331.2" y2="857.25" stroke="#9c9c9c" stroke-width="0.9" />
<text x="55" y="861.97" font-size="13.9" text-anchor="end" >0.05</text>
<line x1="58.6" y1="843.56" x2="61.2" y2="843.56" stroke="#9c9c9c" stroke-width="0.9" />
<line x1="333.8" y1="843.56" x2="331.2" y2="843.56" stroke="#9c9c9c" stroke-width="0.9" />
<text x="55" y="848.29" font-size="13.9" text-anchor="end" >0.10</text>
<line x1="58.6" y1="820.7" x2="61.2" y2="820.7" stroke="#9c9c9c" stroke-width="0.9" />
<line x1="333.8" y1="820.7" x2="331.2" y2="820.7" stroke="#9c9c9c" stroke-width="0.9" />
<text x="55" y="825.43" font-size="13.9" text-anchor="end" >0.25</text>
<line x1="58.6" y1="795.3" x2="61.2" y2="795.3" stroke="#9c9c9c" stroke-width="0.9" />
<line x1="333.8" y1="795.3" x2="331.2" y2="795.3" stroke="#9c9c9c" stroke-width="0.9" />
<text x="55" y="800.03" font-size="13.9" text-anchor="end" >0.50</text>
<line x1="58.6" y1="769.9" x2="61.2" y2="769.9" stroke="#9c9c9c" stroke-width="0.9" />
<line x1="333.8" y1="769.9" x2="331.2" y2="769.9" stroke="#9c9c9c" stroke-width="0.9" />
<text x="55" y="774.62" font-size="13.9" text-anchor="end" >0.75</text>
<line x1="58.6" y1="747.04" x2="61.2" y2="747.04" stroke="#9c9c9c" stroke-width="0.9" />
<line x1="333.8" y1="747.04" x2="331.2" y2="747.04" stroke="#9c9c9c" stroke-width="0.9" />
<text x="55" y="751.76" font-size="13.9" text-anchor="end" >0.90</text>
<line x1="58.6" y1="733.35" x2="61.2" y2="733.35" stroke="#9c9c9c" stroke-width="0.9" />
<line x1="333.8" y1="733.35" x2="331.2" y2="733.35" stroke="#9c9c9c" stroke-width="0.9" />
<text x="55" y="738.08" font-size="13.9" text-anchor="end" >0.95</text>
<line x1="58.6" y1="717.96" x2="61.2" y2="717.96" stroke="#9c9c9c" stroke-width="0.9" />
<line x1="333.8" y1="717.96" x2="331.2" y2="717.96" stroke="#9c9c9c" stroke-width="0.9" />
<text x="55" y="722.68" font-size="13.9" text-anchor="end" >0.98</text>
<line x1="58.6" y1="707.69" x2="61.2" y2="707.69" stroke="#9c9c9c" stroke-width="0.9" />
<line x1="333.8" y1="707.69" x2="331.2" y2="707.69" stroke="#9c9c9c" stroke-width="0.9" />
<text x="55" y="712.42" font-size="13.9" text-anchor="end" >0.99</text>
<line x1="58.6" y1="691.82" x2="61.2" y2="691.82" stroke="#9c9c9c" stroke-width="0.9" />
<line x1="333.8" y1="691.82" x2="331.2" y2="691.82" stroke="#9c9c9c" stroke-width="0.9" />
<text x="55" y="696.54" font-size="13.9" text-anchor="end" >0.997</text>
<rect x="68.6" y="688.6" width="126.3" height="25.1" fill="#fff" stroke="#555" stroke-width="0.9" />
<text x="72.2" y="698.9" font-size="9.4" font-style="italic" >Mean = -0.7559</text>
<text x="72.2" y="709.6" font-size="9.4" font-style="italic" textLength="116" lengthAdjust="spacingAndGlyphs" >Standard Deviation = 22.6902</text>
<text x="120.5" y="672.9" font-size="14.8" textLength="152.4" lengthAdjust="spacingAndGlyphs" >Normal Probability Plot</text>
<text x="9.4" y="669.8" font-size="16.2" >(e)</text>
<text x="196" y="940" font-size="14.3" text-anchor="middle" textLength="29.2" lengthAdjust="spacingAndGlyphs" >Data</text>
<text transform="translate(20.4 795.5) rotate(-90)" x="0" y="0" font-size="14.4" text-anchor="middle" textLength="69.5" lengthAdjust="spacingAndGlyphs">Probability</text>
<rect x="397.7" y="684.4" width="276.5" height="224.8" fill="#fff" stroke="none" stroke-width="1" />
<line x1="443.84" y1="684.4" x2="443.84" y2="909.2" stroke="#eeeeee" stroke-width="1" />
<line x1="489.87" y1="684.4" x2="489.87" y2="909.2" stroke="#eeeeee" stroke-width="1" />
<line x1="535.9" y1="684.4" x2="535.9" y2="909.2" stroke="#eeeeee" stroke-width="1" />
<line x1="581.93" y1="684.4" x2="581.93" y2="909.2" stroke="#eeeeee" stroke-width="1" />
<line x1="627.96" y1="684.4" x2="627.96" y2="909.2" stroke="#eeeeee" stroke-width="1" />
<line x1="397.7" y1="903.23" x2="674.2" y2="903.23" stroke="#ebebeb" stroke-width="1" />
<line x1="397.7" y1="886.98" x2="674.2" y2="886.98" stroke="#ebebeb" stroke-width="1" />
<line x1="397.7" y1="876.47" x2="674.2" y2="876.47" stroke="#ebebeb" stroke-width="1" />
<line x1="397.7" y1="860.71" x2="674.2" y2="860.71" stroke="#ebebeb" stroke-width="1" />
<line x1="397.7" y1="846.7" x2="674.2" y2="846.7" stroke="#ebebeb" stroke-width="1" />
<line x1="397.7" y1="823.3" x2="674.2" y2="823.3" stroke="#ebebeb" stroke-width="1" />
<line x1="397.7" y1="797.3" x2="674.2" y2="797.3" stroke="#ebebeb" stroke-width="1" />
<line x1="397.7" y1="771.3" x2="674.2" y2="771.3" stroke="#ebebeb" stroke-width="1" />
<line x1="397.7" y1="747.9" x2="674.2" y2="747.9" stroke="#ebebeb" stroke-width="1" />
<line x1="397.7" y1="733.89" x2="674.2" y2="733.89" stroke="#ebebeb" stroke-width="1" />
<line x1="397.7" y1="718.13" x2="674.2" y2="718.13" stroke="#ebebeb" stroke-width="1" />
<line x1="397.7" y1="707.62" x2="674.2" y2="707.62" stroke="#ebebeb" stroke-width="1" />
<line x1="397.7" y1="691.37" x2="674.2" y2="691.37" stroke="#ebebeb" stroke-width="1" />
<clipPath id="cf"><rect x="397.7" y="684.4" width="276.5" height="224.8"/></clipPath>
<g clip-path="url(#cf)">
<line x1="451.2" y1="909.2" x2="616.1" y2="684.4" stroke="#e0393e" stroke-width="0.9" />
</g>
<g fill="#2aa5dc" stroke="#17739f" stroke-width="0.7">
<circle cx="417.2" cy="869" r="2.25"/>
<circle cx="424.5" cy="865.3" r="2.25"/>
<circle cx="458.5" cy="862.3" r="2.25"/>
<circle cx="464.2" cy="859.8" r="2.25"/>
<circle cx="468.6" cy="857.5" r="2.25"/>
<circle cx="473.4" cy="855.3" r="2.25"/>
<circle cx="476" cy="853.5" r="2.25"/>
<circle cx="478.2" cy="851.8" r="2.25"/>
<circle cx="479.5" cy="849.6" r="2.25"/>
<circle cx="480.8" cy="847.4" r="2.25"/>
<circle cx="482.2" cy="844.8" r="2.25"/>
<circle cx="484.3" cy="842.6" r="2.25"/>
<circle cx="490" cy="841.3" r="2.25"/>
<circle cx="493.1" cy="839.5" r="2.25"/>
<circle cx="569.9" cy="760.2" r="2.25"/>
<circle cx="570.8" cy="758.3" r="2.25"/>
<circle cx="571.7" cy="756.7" r="2.25"/>
<circle cx="573.9" cy="754.1" r="2.25"/>
<circle cx="576.5" cy="752.3" r="2.25"/>
<circle cx="579.6" cy="751" r="2.25"/>
<circle cx="581.9" cy="750.1" r="2.25"/>
<circle cx="584.5" cy="748.6" r="2.25"/>
<circle cx="586.3" cy="747.4" r="2.25"/>
<circle cx="588.9" cy="744.8" r="2.25"/>
<circle cx="591.2" cy="742.5" r="2.25"/>
<circle cx="593.3" cy="740.4" r="2.25"/>
<circle cx="602" cy="737.5" r="2.25"/>
<circle cx="605.2" cy="734.3" r="2.25"/>
<circle cx="612.6" cy="730.8" r="2.25"/>
<circle cx="615.7" cy="728.2" r="2.25"/>
<circle cx="625.7" cy="724.7" r="2.25"/>
</g>
<g fill="#1f8ec0" stroke="#106a92" stroke-width="0.7">
<circle cx="495.95" cy="836.81" r="2.25"/>
<circle cx="497.71" cy="835.6" r="2.25"/>
<circle cx="498.85" cy="834.91" r="2.25"/>
<circle cx="499.28" cy="834.06" r="2.25"/>
<circle cx="500.35" cy="832.91" r="2.25"/>
<circle cx="501.7" cy="831.53" r="2.25"/>
<circle cx="503.49" cy="831.66" r="2.25"/>
<circle cx="504.37" cy="829.26" r="2.25"/>
<circle cx="506.38" cy="828.73" r="2.25"/>
<circle cx="508.31" cy="827.11" r="2.25"/>
<circle cx="510.87" cy="825.77" r="2.25"/>
<circle cx="512" cy="824.81" r="2.25"/>
<circle cx="512.3" cy="823.26" r="2.25"/>
<circle cx="513.63" cy="822.74" r="2.25"/>
<circle cx="514.55" cy="820.91" r="2.25"/>
<circle cx="516.14" cy="819.37" r="2.25"/>
<circle cx="516.97" cy="817.69" r="2.25"/>
<circle cx="517.23" cy="816.64" r="2.25"/>
<circle cx="519.05" cy="815.7" r="2.25"/>
<circle cx="519.51" cy="814.69" r="2.25"/>
<circle cx="520.68" cy="813.07" r="2.25"/>
<circle cx="522.14" cy="812.4" r="2.25"/>
<circle cx="522.34" cy="811" r="2.25"/>
<circle cx="523.84" cy="810.09" r="2.25"/>
<circle cx="525.22" cy="807.94" r="2.25"/>
<circle cx="526.67" cy="806.37" r="2.25"/>
<circle cx="526.99" cy="805.96" r="2.25"/>
<circle cx="527.71" cy="804.28" r="2.25"/>
<circle cx="528.65" cy="803.24" r="2.25"/>
<circle cx="530.54" cy="801.8" r="2.25"/>
<circle cx="531.56" cy="800.14" r="2.25"/>
<circle cx="532.17" cy="799.23" r="2.25"/>
<circle cx="533.01" cy="797.04" r="2.25"/>
<circle cx="534.38" cy="795.72" r="2.25"/>
<circle cx="534.96" cy="793.8" r="2.25"/>
<circle cx="535.48" cy="792.32" r="2.25"/>
<circle cx="537.41" cy="791.19" r="2.25"/>
<circle cx="538.95" cy="788.55" r="2.25"/>
<circle cx="539.64" cy="787.44" r="2.25"/>
<circle cx="540.03" cy="785.58" r="2.25"/>
<circle cx="541.14" cy="783.53" r="2.25"/>
<circle cx="541.88" cy="782.88" r="2.25"/>
<circle cx="542.98" cy="780.81" r="2.25"/>
<circle cx="544.35" cy="780.35" r="2.25"/>
<circle cx="544.91" cy="778.43" r="2.25"/>
<circle cx="546.52" cy="777.64" r="2.25"/>
<circle cx="547.85" cy="776.21" r="2.25"/>
<circle cx="548.04" cy="774.18" r="2.25"/>
<circle cx="549.1" cy="773.44" r="2.25"/>
<circle cx="551.49" cy="770.91" r="2.25"/>
<circle cx="551.95" cy="769.52" r="2.25"/>
<circle cx="553.58" cy="768.53" r="2.25"/>
<circle cx="555.62" cy="766.87" r="2.25"/>
<circle cx="555.66" cy="765.59" r="2.25"/>
<circle cx="557.02" cy="764.29" r="2.25"/>
<circle cx="559.18" cy="763.57" r="2.25"/>
<circle cx="559.92" cy="762.56" r="2.25"/>
<circle cx="561.65" cy="761.13" r="2.25"/>
<circle cx="563.46" cy="761.49" r="2.25"/>
</g>
<rect x="397.7" y="684.4" width="276.5" height="224.8" fill="none" stroke="#9c9c9c" stroke-width="1" />
<line x1="397.81" y1="909.2" x2="397.81" y2="906.6" stroke="#666" stroke-width="0.9" />
<line x1="397.81" y1="684.4" x2="397.81" y2="687" stroke="#9c9c9c" stroke-width="0.9" />
<text x="397.81" y="927" font-size="13.6" text-anchor="middle" >-30</text>
<line x1="443.84" y1="909.2" x2="443.84" y2="906.6" stroke="#666" stroke-width="0.9" />
<line x1="443.84" y1="684.4" x2="443.84" y2="687" stroke="#9c9c9c" stroke-width="0.9" />
<text x="443.84" y="927" font-size="13.6" text-anchor="middle" >-20</text>
<line x1="489.87" y1="909.2" x2="489.87" y2="906.6" stroke="#666" stroke-width="0.9" />
<line x1="489.87" y1="684.4" x2="489.87" y2="687" stroke="#9c9c9c" stroke-width="0.9" />
<text x="489.87" y="927" font-size="13.6" text-anchor="middle" >-10</text>
<line x1="535.9" y1="909.2" x2="535.9" y2="906.6" stroke="#666" stroke-width="0.9" />
<line x1="535.9" y1="684.4" x2="535.9" y2="687" stroke="#9c9c9c" stroke-width="0.9" />
<text x="535.9" y="927" font-size="13.6" text-anchor="middle" >0</text>
<line x1="581.93" y1="909.2" x2="581.93" y2="906.6" stroke="#666" stroke-width="0.9" />
<line x1="581.93" y1="684.4" x2="581.93" y2="687" stroke="#9c9c9c" stroke-width="0.9" />
<text x="581.93" y="927" font-size="13.6" text-anchor="middle" >10</text>
<line x1="627.96" y1="909.2" x2="627.96" y2="906.6" stroke="#666" stroke-width="0.9" />
<line x1="627.96" y1="684.4" x2="627.96" y2="687" stroke="#9c9c9c" stroke-width="0.9" />
<text x="627.96" y="927" font-size="13.6" text-anchor="middle" >20</text>
<line x1="673.99" y1="909.2" x2="673.99" y2="906.6" stroke="#666" stroke-width="0.9" />
<line x1="673.99" y1="684.4" x2="673.99" y2="687" stroke="#9c9c9c" stroke-width="0.9" />
<text x="673.99" y="927" font-size="13.6" text-anchor="middle" >30</text>
<line x1="397.7" y1="903.23" x2="400.3" y2="903.23" stroke="#9c9c9c" stroke-width="0.9" />
<line x1="674.2" y1="903.23" x2="671.6" y2="903.23" stroke="#9c9c9c" stroke-width="0.9" />
<text x="394.2" y="907.95" font-size="13.9" text-anchor="end" >0.003</text>
<line x1="397.7" y1="886.98" x2="400.3" y2="886.98" stroke="#9c9c9c" stroke-width="0.9" />
<line x1="674.2" y1="886.98" x2="671.6" y2="886.98" stroke="#9c9c9c" stroke-width="0.9" />
<text x="394.2" y="891.71" font-size="13.9" text-anchor="end" >0.01</text>
<line x1="397.7" y1="876.47" x2="400.3" y2="876.47" stroke="#9c9c9c" stroke-width="0.9" />
<line x1="674.2" y1="876.47" x2="671.6" y2="876.47" stroke="#9c9c9c" stroke-width="0.9" />
<text x="394.2" y="881.2" font-size="13.9" text-anchor="end" >0.02</text>
<line x1="397.7" y1="860.71" x2="400.3" y2="860.71" stroke="#9c9c9c" stroke-width="0.9" />
<line x1="674.2" y1="860.71" x2="671.6" y2="860.71" stroke="#9c9c9c" stroke-width="0.9" />
<text x="394.2" y="865.44" font-size="13.9" text-anchor="end" >0.05</text>
<line x1="397.7" y1="846.7" x2="400.3" y2="846.7" stroke="#9c9c9c" stroke-width="0.9" />
<line x1="674.2" y1="846.7" x2="671.6" y2="846.7" stroke="#9c9c9c" stroke-width="0.9" />
<text x="394.2" y="851.43" font-size="13.9" text-anchor="end" >0.10</text>
<line x1="397.7" y1="823.3" x2="400.3" y2="823.3" stroke="#9c9c9c" stroke-width="0.9" />
<line x1="674.2" y1="823.3" x2="671.6" y2="823.3" stroke="#9c9c9c" stroke-width="0.9" />
<text x="394.2" y="828.03" font-size="13.9" text-anchor="end" >0.25</text>
<line x1="397.7" y1="797.3" x2="400.3" y2="797.3" stroke="#9c9c9c" stroke-width="0.9" />
<line x1="674.2" y1="797.3" x2="671.6" y2="797.3" stroke="#9c9c9c" stroke-width="0.9" />
<text x="394.2" y="802.03" font-size="13.9" text-anchor="end" >0.50</text>
<line x1="397.7" y1="771.3" x2="400.3" y2="771.3" stroke="#9c9c9c" stroke-width="0.9" />
<line x1="674.2" y1="771.3" x2="671.6" y2="771.3" stroke="#9c9c9c" stroke-width="0.9" />
<text x="394.2" y="776.02" font-size="13.9" text-anchor="end" >0.75</text>
<line x1="397.7" y1="747.9" x2="400.3" y2="747.9" stroke="#9c9c9c" stroke-width="0.9" />
<line x1="674.2" y1="747.9" x2="671.6" y2="747.9" stroke="#9c9c9c" stroke-width="0.9" />
<text x="394.2" y="752.62" font-size="13.9" text-anchor="end" >0.90</text>
<line x1="397.7" y1="733.89" x2="400.3" y2="733.89" stroke="#9c9c9c" stroke-width="0.9" />
<line x1="674.2" y1="733.89" x2="671.6" y2="733.89" stroke="#9c9c9c" stroke-width="0.9" />
<text x="394.2" y="738.62" font-size="13.9" text-anchor="end" >0.95</text>
<line x1="397.7" y1="718.13" x2="400.3" y2="718.13" stroke="#9c9c9c" stroke-width="0.9" />
<line x1="674.2" y1="718.13" x2="671.6" y2="718.13" stroke="#9c9c9c" stroke-width="0.9" />
<text x="394.2" y="722.85" font-size="13.9" text-anchor="end" >0.98</text>
<line x1="397.7" y1="707.62" x2="400.3" y2="707.62" stroke="#9c9c9c" stroke-width="0.9" />
<line x1="674.2" y1="707.62" x2="671.6" y2="707.62" stroke="#9c9c9c" stroke-width="0.9" />
<text x="394.2" y="712.35" font-size="13.9" text-anchor="end" >0.99</text>
<line x1="397.7" y1="691.37" x2="400.3" y2="691.37" stroke="#9c9c9c" stroke-width="0.9" />
<line x1="674.2" y1="691.37" x2="671.6" y2="691.37" stroke="#9c9c9c" stroke-width="0.9" />
<text x="394.2" y="696.1" font-size="13.9" text-anchor="end" >0.997</text>
<rect x="410.2" y="689.6" width="126.3" height="25.6" fill="#fff" stroke="#555" stroke-width="0.9" />
<text x="413.8" y="700.4" font-size="9.4" font-style="italic" >Mean = -0.3533</text>
<text x="413.8" y="711" font-size="9.4" font-style="italic" textLength="116" lengthAdjust="spacingAndGlyphs" >Standard Deviation = 12.0976</text>
<text x="460" y="674.7" font-size="14.8" textLength="152.4" lengthAdjust="spacingAndGlyphs" >Normal Probability Plot</text>
<text x="351.7" y="669.8" font-size="16.2" >(f)</text>
<text x="535.8" y="942.2" font-size="14.3" text-anchor="middle" textLength="29.2" lengthAdjust="spacingAndGlyphs" >Data</text>
<text transform="translate(360.3 796.8) rotate(-90)" x="0" y="0" font-size="14.4" text-anchor="middle" textLength="69.5" lengthAdjust="spacingAndGlyphs">Probability</text>
<line x1="4.3" y1="1" x2="685" y2="1" stroke="#cc1424" stroke-width="2.6" stroke-dasharray="9.5 7.43"/>
<line x1="4.5" y1="365.4" x2="685" y2="365.4" stroke="#cc1424" stroke-width="2.6" stroke-dasharray="9.5 7.43"/>
<line x1="4.5" y1="648" x2="685" y2="648" stroke="#cc1424" stroke-width="2.6" stroke-dasharray="9.5 7.43"/>
<line x1="-5.1" y1="945.8" x2="685" y2="945.8" stroke="#cc1424" stroke-width="2.6" stroke-dasharray="9.5 7.43"/>
<line x1="3.7" y1="5.3" x2="3.7" y2="947" stroke="#cc1424" stroke-width="2.6" stroke-dasharray="9.5 7.43"/>
<line x1="344.2" y1="0.9" x2="344.2" y2="947" stroke="#cc1424" stroke-width="2.6" stroke-dasharray="9.5 7.43"/>
<line x1="684.2" y1="-1.1" x2="684.2" y2="947" stroke="#cc1424" stroke-width="2.6" stroke-dasharray="9.5 7.43"/>
</svg></body></html>
